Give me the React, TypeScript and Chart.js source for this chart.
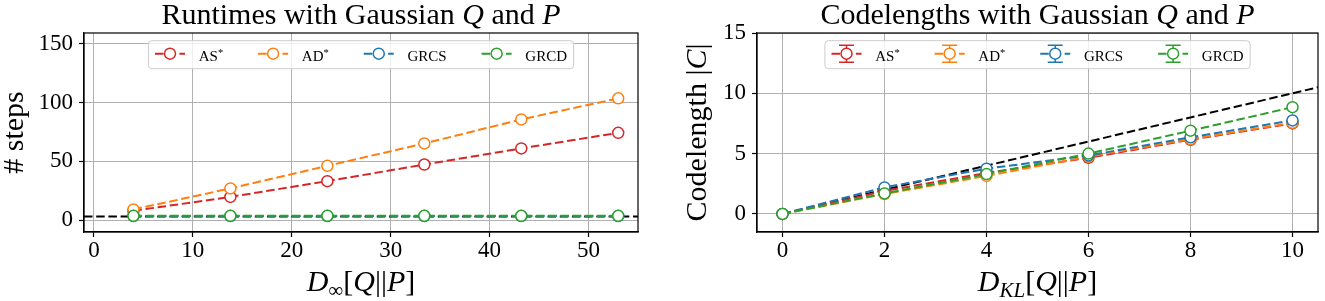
import React, { useEffect, useRef } from "react";
import { Chart, registerables } from "chart.js";

Chart.register(...registerables);

const FONT = '"Liberation Serif", "Times New Roman", Times, serif';

// ---- Left chart: runtimes ----
const runtimeX = [4, 13.8, 23.6, 33.4, 43.2, 53];
const runtimeAS = [8.0, 19.8, 33.2, 47.3, 61.0, 74.2];
const runtimeAD = [9.2, 27.0, 46.2, 65.2, 85.6, 103.5];
const runtimeGRCS = [3.5, 3.5, 3.5, 3.5, 3.5, 3.5];
const runtimeGRCD = [3.7, 3.7, 3.7, 3.7, 3.7, 3.7];
const runtimeBaseline = 3.2;
const runtimeXRange = [-1, 55];
const runtimeYRange = [-10, 159];
const runtimeXTicks = [0, 10, 20, 30, 40, 50];
const runtimeYTicks = [0, 50, 100, 150];

// ---- Right chart: codelengths ----
const codeX = [0, 2, 4, 6, 8, 10];
const codeAS = [0, 1.9, 3.4, 4.65, 6.15, 7.5];
const codeAD = [0, 1.65, 3.15, 4.75, 6.2, 7.55];
const codeGRCS = [0, 2.2, 3.75, 4.85, 6.35, 7.75];
const codeGRCD = [0, 1.7, 3.3, 5.0, 6.9, 8.85];
const codeRefX = [0, 10.5];
const codeRefY = [0, 10.5];
const codeXRange = [-0.5, 10.5];
const codeYRange = [-1.5, 15];
const codeXTicks = [0, 2, 4, 6, 8, 10];
const codeYTicks = [0, 5, 10, 15];

const seriesLabels = ["AS", "AD", "GRCS", "GRCD"];
const seriesStar = [true, true, false, false];
const seriesColors = ["#d62728", "#ff7f0e", "#1f77b4", "#2ca02c"];

const DASH = [8.5, 3.7];

type Seg = { t: string; it?: boolean; sub?: boolean; sup?: boolean };

function segFont(s: Seg, size: number) {
  const sz = s.sub || s.sup ? size * 0.7 : size;
  return `${s.it ? "italic " : ""}${sz}px ${FONT}`;
}
function measureSegs(ctx: CanvasRenderingContext2D, segs: Seg[], size: number) {
  let w = 0;
  for (const s of segs) {
    ctx.font = segFont(s, size);
    w += ctx.measureText(s.t).width;
  }
  return w;
}
function drawSegs(ctx: CanvasRenderingContext2D, segs: Seg[], x: number, y: number, size: number) {
  ctx.textAlign = "left";
  ctx.textBaseline = "alphabetic";
  for (const s of segs) {
    ctx.font = segFont(s, size);
    const dy = s.sub ? size * 0.22 : s.sup ? -size * 0.36 : 0;
    ctx.fillText(s.t, x, y + dy);
    x += ctx.measureText(s.t).width;
  }
}
function drawCentered(ctx: CanvasRenderingContext2D, segs: Seg[], cx: number, y: number, size: number) {
  const w = measureSegs(ctx, segs, size);
  drawSegs(ctx, segs, cx - w / 2, y, size);
}

type Decor = {
  title: Seg[];
  xlabel: Seg[];
  ylabel: Seg[];
  ylabelX: number;
  caps: boolean;
};

function legendLabel(i: number): Seg[] {
  return seriesStar[i] ? [{ t: seriesLabels[i] }, { t: "*", sup: true }] : [{ t: seriesLabels[i] }];
}

function makeDecor(cfg: Decor) {
  return {
    id: "decor",
    afterDatasetsDraw(chart: any) {
      const ctx: CanvasRenderingContext2D = chart.ctx;
      const a = chart.chartArea;
      const fs = 15;
      const handle = 30,
        gapText = 13.7,
        colSp = 35,
        pad = 6.6;
      const labels = seriesLabels.map((_, i) => legendLabel(i));
      const widths = labels.map((l) => measureSegs(ctx, l, fs));
      const total =
        pad * 2 + widths.reduce((s, w) => s + handle + gapText + w, 0) + colSp * (labels.length - 1);
      const cx = (a.left + a.right) / 2;
      const left = cx - total / 2;
      const top = a.top + 7.7;
      const h = 28;
      ctx.save();
      ctx.beginPath();
      (ctx as any).roundRect(left, top, total, h, 3.5);
      ctx.fillStyle = "rgba(255,255,255,0.8)";
      ctx.fill();
      ctx.strokeStyle = "#cccccc";
      ctx.lineWidth = 1;
      ctx.stroke();
      const cy = top + 13;
      let x = left + pad;
      labels.forEach((lab, i) => {
        const col = seriesColors[i];
        ctx.strokeStyle = col;
        ctx.lineWidth = 2;
        ctx.setLineDash(DASH);
        ctx.beginPath();
        ctx.moveTo(x, cy);
        ctx.lineTo(x + handle, cy);
        ctx.stroke();
        ctx.setLineDash([]);
        const mx = x + handle / 2;
        if (cfg.caps) {
          ctx.lineWidth = 1.5;
          ctx.beginPath();
          ctx.moveTo(mx, cy - 8.5);
          ctx.lineTo(mx, cy + 8.5);
          ctx.moveTo(mx - 7.5, cy - 8.5);
          ctx.lineTo(mx + 7.5, cy - 8.5);
          ctx.moveTo(mx - 7.5, cy + 8.5);
          ctx.lineTo(mx + 7.5, cy + 8.5);
          ctx.stroke();
        }
        ctx.beginPath();
        ctx.arc(mx, cy, 5.5, 0, Math.PI * 2);
        ctx.fillStyle = "#fff";
        ctx.fill();
        ctx.lineWidth = 1.5;
        ctx.stroke();
        ctx.fillStyle = "#000";
        drawSegs(ctx, lab, x + handle + gapText, cy + 7.7, fs);
        x += handle + gapText + widths[i] + colSp;
      });
      ctx.restore();
    },
    afterDraw(chart: any) {
      const ctx: CanvasRenderingContext2D = chart.ctx;
      const a = chart.chartArea;
      ctx.save();
      ctx.strokeStyle = "#000";
      ctx.lineWidth = 1.2;
      ctx.strokeRect(a.left, a.top, a.right - a.left, a.bottom - a.top);
      ctx.fillStyle = "#000";
      const cx = (a.left + a.right) / 2;
      drawCentered(ctx, cfg.title, cx, 24, 30);
      drawCentered(ctx, cfg.xlabel, cx, 290.5, 30);
      ctx.translate(cfg.ylabelX, (a.top + a.bottom) / 2);
      ctx.rotate(-Math.PI / 2);
      drawCentered(ctx, cfg.ylabel, 0, 0, 30);
      ctx.restore();
    },
  };
}

function series(xs: number[], ys: number[], i: number) {
  return {
    label: seriesLabels[i],
    data: xs.map((x, k) => ({ x, y: ys[k] })),
    borderColor: seriesColors[i],
    backgroundColor: "#ffffff",
    borderWidth: 2,
    borderDash: DASH,
    pointRadius: 5.5,
    pointBorderWidth: 1.5,
    pointBackgroundColor: "#ffffff",
    pointBorderColor: seriesColors[i],
    showLine: true,
    tension: 0,
    order: 4 - i,
  };
}

function refLine(xs: number[], ys: number[]) {
  return {
    label: "ref",
    data: xs.map((x, k) => ({ x, y: ys[k] })),
    borderColor: "#000000",
    borderWidth: 2,
    borderDash: DASH,
    pointRadius: 0,
    showLine: true,
    tension: 0,
    order: 10,
  };
}

function axis(range: number[], ticks: number[], horizontal: boolean, size: number) {
  return {
    type: "linear",
    min: range[0],
    max: range[1],
    afterBuildTicks: (s: any) => {
      s.ticks = ticks.map((v) => ({ value: v }));
    },
    afterFit: (s: any) => {
      if (horizontal) s.height = size;
      else s.width = size;
    },
    grid: {
      color: "#b0b0b0",
      lineWidth: 1,
      drawTicks: true,
      tickLength: 5,
      tickColor: "#000",
      tickWidth: 1.2,
    },
    border: { display: true, color: "#000", width: 1.2 },
    ticks: {
      color: "#000",
      font: { family: FONT, size: 23 },
      padding: horizontal ? 0 : 6,
      maxRotation: 0,
      autoSkip: false,
    },
  };
}

function buildConfig(
  datasets: any[],
  xr: number[],
  yr: number[],
  xt: number[],
  yt: number[],
  yWidth: number,
  rightPad: number,
  decor: Decor
): any {
  return {
    type: "line",
    data: { datasets },
    options: {
      responsive: false,
      animation: false,
      devicePixelRatio: 1,
      layout: { padding: { top: 33, right: rightPad, left: 0, bottom: 0 } },
      plugins: {
        legend: { display: false },
        tooltip: { enabled: false },
        title: { display: false },
      },
      scales: {
        x: axis(xr, xt, true, 69),
        y: axis(yr, yt, false, yWidth),
      },
    },
    plugins: [makeDecor(decor)],
  };
}

export default function App() {
  const leftRef = useRef<HTMLCanvasElement>(null);
  const rightRef = useRef<HTMLCanvasElement>(null);

  useEffect(() => {
    const leftDatasets = [
      series(runtimeX, runtimeAS, 0),
      series(runtimeX, runtimeAD, 1),
      series(runtimeX, runtimeGRCS, 2),
      series(runtimeX, runtimeGRCD, 3),
      refLine(runtimeXRange, [runtimeBaseline, runtimeBaseline]),
    ];
    const rightDatasets = [
      series(codeX, codeAS, 0),
      series(codeX, codeAD, 1),
      series(codeX, codeGRCS, 2),
      series(codeX, codeGRCD, 3),
      refLine(codeRefX, codeRefY),
    ];
    const c1 = new Chart(
      leftRef.current as HTMLCanvasElement,
      buildConfig(leftDatasets, runtimeXRange, runtimeYRange, runtimeXTicks, runtimeYTicks, 84, 22, {
        title: [{ t: "Runtimes with Gaussian " }, { t: "Q", it: true }, { t: " and " }, { t: "P", it: true }],
        xlabel: [
          { t: "D", it: true },
          { t: "∞", sub: true },
          { t: "[" },
          { t: "Q", it: true },
          { t: "||" },
          { t: "P", it: true },
          { t: "]" },
        ],
        ylabel: [{ t: "# steps" }],
        ylabelX: 22.5,
        caps: false,
      })
    );
    const c2 = new Chart(
      rightRef.current as HTMLCanvasElement,
      buildConfig(rightDatasets, codeXRange, codeYRange, codeXTicks, codeYTicks, 97, 5, {
        title: [{ t: "Codelengths with Gaussian " }, { t: "Q", it: true }, { t: " and " }, { t: "P", it: true }],
        xlabel: [
          { t: "D", it: true },
          { t: "KL", it: true, sub: true },
          { t: "[" },
          { t: "Q", it: true },
          { t: "||" },
          { t: "P", it: true },
          { t: "]" },
        ],
        ylabel: [{ t: "Codelength |" }, { t: "C", it: true }, { t: "|" }],
        ylabelX: 46,
        caps: true,
      })
    );
    return () => {
      c1.destroy();
      c2.destroy();
    };
  }, []);

  return (
    <div style={{ position: "absolute", left: 0, top: 0, width: 1325, height: 301, background: "#fff" }}>
      <canvas ref={leftRef} width={660} height={301} style={{ position: "absolute", left: 0, top: 0 }} />
      <canvas ref={rightRef} width={665} height={301} style={{ position: "absolute", left: 660, top: 0 }} />
    </div>
  );
}
